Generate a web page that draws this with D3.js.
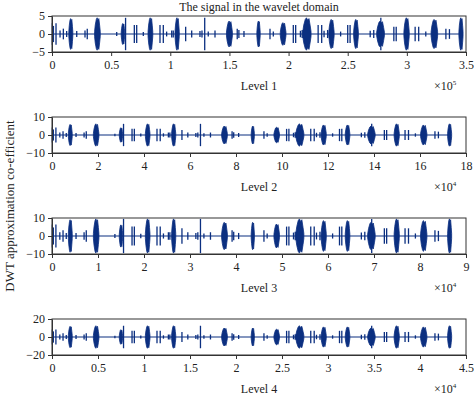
<!DOCTYPE html>
<html>
<head>
<meta charset="utf-8">
<script src="https://cdn.jsdelivr.net/npm/d3@7"></script>
<style>
  body { margin: 0; background: #fff; }
  svg { display: block; }
  text { font-family: "Liberation Serif", "Times New Roman", serif; fill: #222; }
</style>
</head>
<body>
<svg id="chart" width="474" height="395"></svg>
<script>
// one panel per decomposition level
var levelNames = ["Level 1", "Level 2", "Level 3", "Level 4"];
var xTickValues = [
    [0, 0.5, 1, 1.5, 2, 2.5, 3, 3.5],
    [0, 2, 4, 6, 8, 10, 12, 14, 16, 18],
    [0, 1, 2, 3, 4, 5, 6, 7, 8, 9],
    [0, 0.5, 1, 1.5, 2, 2.5, 3, 3.5, 4, 4.5]
];
var xExponent = [5, 4, 4, 4];
var yTickValues = [[-5, 0, 5], [-10, 0, 10], [-10, 0, 10], [-20, 0, 20]];
var levelPeak = [4.5, 6.2, 9.5, 12.5];   // largest coefficient seen in each panel

// signal length, in level 1 samples x10^5
var signalEnd = 3.47;

var bursts = [
    [0.003, 0.003, 0.67], [0.012, 0.012, 0.5], [0.034, 0.034, 0.67],
    [0.068, 0.068, 0.22], [0.096, 0.096, 0.33], [0.124, 0.124, 0.18],
    [0.142, 0.176, 0.95], [0.209, 0.209, 0.18], [0.279, 0.279, 0.22],
    [0.298, 0.298, 0.33], [0.360, 0.408, 1.0], [0.547, 0.547, 0.12],
    [0.585, 0.615, 0.65], [0.622, 0.622, 1.0], [0.696, 0.696, 0.55],
    [0.716, 0.716, 0.55], [0.772, 0.772, 0.13], [0.812, 0.852, 1.0],
    [0.913, 0.913, 0.55], [0.941, 0.941, 0.55], [0.969, 0.969, 0.15],
    [1.012, 1.012, 0.22], [1.025, 1.025, 0.22], [1.040, 1.076, 1.0],
    [1.130, 1.130, 0.45], [1.181, 1.181, 0.22], [1.251, 1.251, 0.18],
    [1.268, 1.268, 0.22], [1.291, 1.291, 1.0], [1.321, 1.321, 0.15],
    [1.378, 1.378, 0.22], [1.475, 1.525, 0.8], [1.566, 1.566, 0.33],
    [1.580, 1.580, 0.25], [1.623, 1.623, 0.18], [1.732, 1.760, 0.8],
    [1.843, 1.843, 0.33], [1.871, 1.871, 0.15], [1.930, 1.978, 0.7],
    [2.040, 2.040, 0.55], [2.060, 2.060, 0.55], [2.100, 2.100, 0.2],
    [2.115, 2.115, 0.25], [2.120, 2.190, 1.0], [2.250, 2.250, 0.55],
    [2.280, 2.280, 0.55], [2.300, 2.300, 0.2], [2.330, 2.330, 0.25],
    [2.340, 2.385, 0.9], [2.440, 2.440, 0.15], [2.500, 2.500, 0.55],
    [2.520, 2.520, 0.55], [2.550, 2.590, 0.9], [2.690, 2.690, 0.2],
    [2.720, 2.720, 0.25], [2.745, 2.810, 0.8], [2.780, 2.780, 1.0],
    [2.890, 2.890, 0.45], [2.910, 2.910, 0.45], [2.975, 3.020, 1.0],
    [3.070, 3.070, 0.45], [3.100, 3.100, 0.45], [3.160, 3.160, 0.15],
    [3.205, 3.260, 0.9], [3.330, 3.330, 0.33], [3.360, 3.360, 0.3],
    [3.440, 3.475, 1.0]
];

// envelope of a voiced burst: [position across the burst, share of its amplitude]
var burstShape = [[0, 0.15], [0.12, 0.55], [0.3, 0.9], [0.45, 1], [0.6, 0.85],
                  [0.75, 0.95], [0.9, 0.5], [1, 0.15]];

var svg = d3.select('#chart');
var left = 52, right = 466, panelH = 36;
var panelTop = [16, 117, 218, 319];
var blue = '#0b2f80';
var minus = function(v) { return String(v).replace('-', '\u2212'); };

svg.append('text')
    .attr('x', 259).attr('y', 11)
    .attr('text-anchor', 'middle')
    .style('font-size', '12px')
    .text('The signal in the wavelet domain');

svg.append('text')
    .attr('transform', 'translate(14,206) rotate(-90)')
    .attr('text-anchor', 'middle')
    .style('font-size', '13px')
    .text('DWT approximation co-efficient');

levelNames.forEach(function(name, i) {
    var ticks = xTickValues[i];
    var x = d3.scaleLinear()
        .domain([0, ticks[ticks.length - 1]])
        .range([left, right]);
    var yMax = yTickValues[i][2];
    var y = d3.scaleLinear()
        .domain([-yMax, yMax])
        .range([panelTop[i] + panelH, panelTop[i]]);
    // level 1 units -> this level's axis units (downsampled by 2 each level)
    var k = 1e5 / Math.pow(2, i) / Math.pow(10, xExponent[i]);
    var peak = levelPeak[i];
    var g = svg.append('g');

    // zero line of the coefficients
    g.append('line')
        .attr('x1', x(0)).attr('x2', x(signalEnd * k))
        .attr('y1', y(0)).attr('y2', y(0))
        .attr('stroke', blue).attr('stroke-width', 1.2);

    var area = d3.area()
        .x(function(d) { return x(d[0]); })
        .y0(function(d) { return y(-d[1]); })
        .y1(function(d) { return y(d[1]); });

    bursts.forEach(function(b) {
        var a = b[2] * peak;
        if (b[0] === b[1]) {
            g.append('line')
                .attr('x1', x(b[0] * k)).attr('x2', x(b[0] * k))
                .attr('y1', y(a)).attr('y2', y(-a))
                .attr('stroke', blue).attr('stroke-width', 1.3);
        } else {
            var x0 = b[0] * k, w = b[1] * k - x0;
            g.append('path')
                .attr('d', area(burstShape.map(function(s) {
                    return [x0 + s[0] * w, s[1] * a];
                })))
                .attr('fill', blue)
                .attr('stroke', blue).attr('stroke-width', 0.8)
                .attr('stroke-linejoin', 'miter');
        }
    });

    // frame
    g.append('rect')
        .attr('x', left).attr('y', panelTop[i])
        .attr('width', right - left).attr('height', panelH)
        .attr('fill', 'none').attr('stroke', '#333').attr('stroke-width', 1);

    var xAxis = g.append('g')
        .attr('transform', 'translate(0,' + (panelTop[i] + panelH) + ')')
        .call(d3.axisBottom(x).tickValues(ticks).tickSize(4).tickSizeOuter(0)
            .tickFormat(function(d) { return minus(d); }));
    var yAxis = g.append('g')
        .attr('transform', 'translate(' + left + ',0)')
        .call(d3.axisLeft(y).tickValues(yTickValues[i]).tickSize(4).tickSizeOuter(0)
            .tickFormat(function(d) { return minus(d); }));

    [xAxis, yAxis].forEach(function(ax) {
        ax.select('.domain').attr('stroke', '#333');
        ax.selectAll('.tick line').attr('stroke', '#333');
        ax.selectAll('.tick text')
            .style('font-size', '12px')
            .style('font-family', '"Liberation Serif", serif')
            .attr('fill', '#222');
    });
    xAxis.selectAll('.tick text').attr('dy', '0.95em').attr('y', 6);
    yAxis.selectAll('.tick text').attr('x', -7);

    g.append('text')
        .attr('x', 259).attr('y', panelTop[i] + 74)
        .attr('text-anchor', 'middle')
        .style('font-size', '12px')
        .text(name);

    var mult = g.append('text')
        .attr('x', 434).attr('y', panelTop[i] + 74)
        .style('font-size', '12px');
    mult.append('tspan').text('\u00d710');
    mult.append('tspan')
        .attr('dy', -5)
        .style('font-size', '7px')
        .text(xExponent[i]);
});
</script>
</body>
</html>
